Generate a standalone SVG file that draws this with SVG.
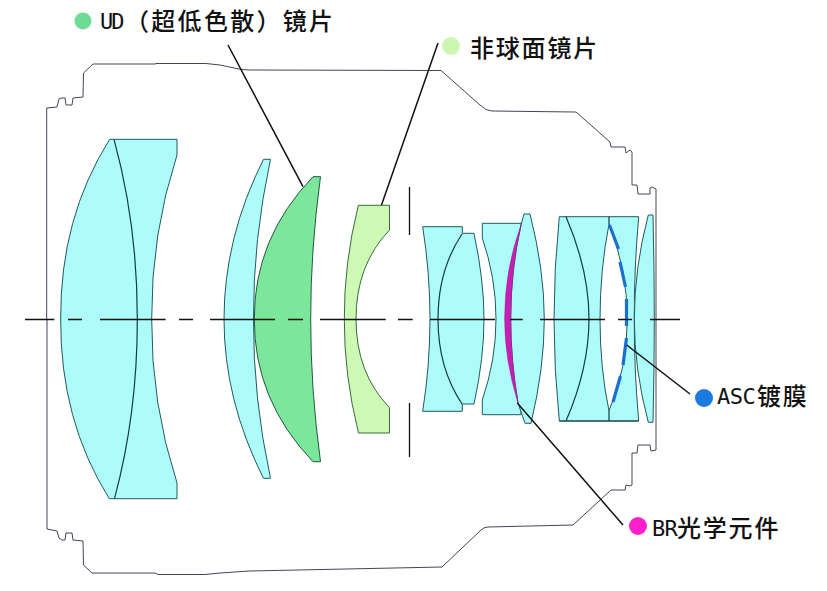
<svg xmlns="http://www.w3.org/2000/svg" width="827" height="591" viewBox="0 0 827 591">
<style>
.blue{fill:#aefbfb;stroke:#1f5a5e;stroke-width:1;stroke-linejoin:round}
.in{fill:none;stroke:#123c40;stroke-width:1.2}
.ud{fill:#7ce69a;stroke:#1f5a40;stroke-width:1}
.asp{fill:#cdf9b5;stroke:#3c6a40;stroke-width:1}
.axis{fill:none;stroke:#111;stroke-width:1.3}
.lead{fill:none;stroke:#111;stroke-width:1.5}
.house{fill:none;stroke:#445;stroke-width:1}
.asc{fill:none;stroke:#1a70d0;stroke-width:3.2}
.t{font-family:"Noto Sans CJK SC","Noto Sans",sans-serif;font-size:24px;font-weight:500;letter-spacing:1.8px;fill:#111}
.l{font-family:"DejaVu Sans Mono",monospace;font-size:22px;font-weight:400}
</style>
<rect width="827" height="591" fill="#fff"/>
<g id="housing">
<path class="house" d="M46.7 319V108L57 107 59 99 61 98H65L66 105H72L73 98 83 97 83.500 73 93 64H155L156 63.500H206L220 65 241 69.500 250 70 441 70.500 480 105Q486 111 492 111L574 112 576 112 610 142 611 147H625L626 153 630 150 632 152V185H637L638 194H650V188L652 187 656 189V450L651 451 650 445H638L637 453H632V485L630 486 626 485 625 490H611L573 525 488 527Q484 527 481 530L442 567 250 571 220 573 205 574.500H158L155 573H92L83.500 565 83 541 73 540 72 533H66L65 540H62L59 538 57 531 47 529V319"/>
</g>
<g id="lens-1">
<path class="blue" d="M109.700 139.300H177V155Q151 235 151.700 319 151 403 177 483V498.700H109.300Q60 420 60.700 319 60 218 109.700 139.300Z"/>
<path class="in" d="M114 139.300Q137.500 225 137.300 319 137.500 413 114.500 498.700"/>
</g>
<g id="lens-2">
<path class="blue" d="M263.500 159.300H270.500Q253 240 253.500 319 253 398 270.500 478.300H263.500Q224 400 224 319 224 238 263.500 159.300Z"/>
</g>
<g id="lens-3-ud">
<path class="ud" d="M313 176.700H320.500Q310.500 250 310.700 319 310.500 388 320.500 461.700H313Q254 400 254.300 319 254 238 313 176.700Z"/>
</g>
<g id="lens-4-aspheric">
<path class="asp" d="M358.300 205.300H389.500V230Q356 265 356 319 356 373 389.500 407.700V433H358.500Q344 375 344.300 319 344 263 358.300 205.300Z"/>
</g>
<g id="stop">
<path class="axis" d="M409.500 187V235M409.500 403V457"/>
</g>
<g id="lens-5">
<path class="blue" d="M422.700 226.700H462.300V233.300H474Q484 280 484 319 484 358 474 404H462.300V411.300H422.700Q430 365 430 319 430 273 422.700 226.700Z"/>
<path class="in" d="M462 234Q438 270 438 319 438 368 462 404"/>
</g>
<g id="lens-6">
<path class="blue" d="M482.300 223.300H521V414.700H482.300V400Q496 360 496 319 496 278 482.300 238Z"/>
<path class="blue" d="M524 214H530Q544.300 270 544.300 319 544.300 368 531 423.300H525L518 403Q510.700 360 510.700 319 510.700 270 521 225Z"/>
<path d="M521 225Q504.700 270 504.700 319 504.700 360 518 403 510.700 360 510.700 319 510.700 270 521 225Z" fill="#c81eb4" stroke="#a01a90" stroke-width=".6"/>
</g>
<g id="lens-7">
<path class="blue" d="M559.300 216.700H638.700Q634 270 634.300 319 634 368 638.700 421H559.300Q554 370 554 319 554 268 559.300 216.700Z"/>
<path d="M609 224Q600 270 600 319 600 368 609 411 627.300 368 627.300 319 627.300 270 609 224Z" fill="#fff" stroke="#1f5a5e"/>
<path class="in" d="M566 216.700Q589 270 589 319 589 368 566 421M609 216.700V224M609 411V421M559.300 421H638.700"/>
</g>
<g id="lens-8">
<path class="blue" d="M648.300 215H653Q654.300 270 654.300 319 654.300 368 653 422.300H648.300Q634.300 370 634.300 319 634.300 268 648.300 215Z"/>
</g>
<g id="coating">
<path class="asc" d="M609.500 225 618.500 249M620 262 625.500 287M626.500 299V326M626.500 338 623 365M620.500 376 613 402"/>
</g>
<g id="connectors">
<path class="axis" d="M25 319.500H54.300M68 319.500H82M100 319.500H165.600M179 319.500H193M210 319.500H275M288 319.500H303M320 319.500H385.700M398 319.500H412.700M430 319.500H495M510 319.500H522.700M540 319.500H605M618 319.500H632M650 319.500H680"/>
<path class="lead" d="M228 45 303 186.700M438 43 381.500 205M626.700 345 690 394M517.300 403 623 525"/>
</g>
<g id="label-ud">
<circle cx="83" cy="21" r="8.500" fill="#6edc96"/>
<text class="t" x="100" y="30"><tspan class="l" y="29" letter-spacing="-2">UD</tspan><tspan x="125" y="30" letter-spacing="2.300">（超低色散）镜片</tspan></text>
</g>
<g id="label-aspheric">
<circle cx="451" cy="46" r="9" fill="#ccf7b0"/>
<text class="t" x="470" y="57">非球面镜片</text>
</g>
<g id="label-asc">
<circle cx="704" cy="398" r="9" fill="#1a7ae0"/>
<text class="t" x="717" y="405"><tspan class="l" y="404" letter-spacing="-0.500">ASC</tspan><tspan x="757" y="405">镀膜</tspan></text>
</g>
<g id="label-br">
<circle cx="638" cy="526" r="9" fill="#ff22cc"/>
<text class="t" x="652" y="537"><tspan class="l" y="536" letter-spacing="-0.700">BR</tspan><tspan x="677" y="537">光学元件</tspan></text>
</g>
</svg>
